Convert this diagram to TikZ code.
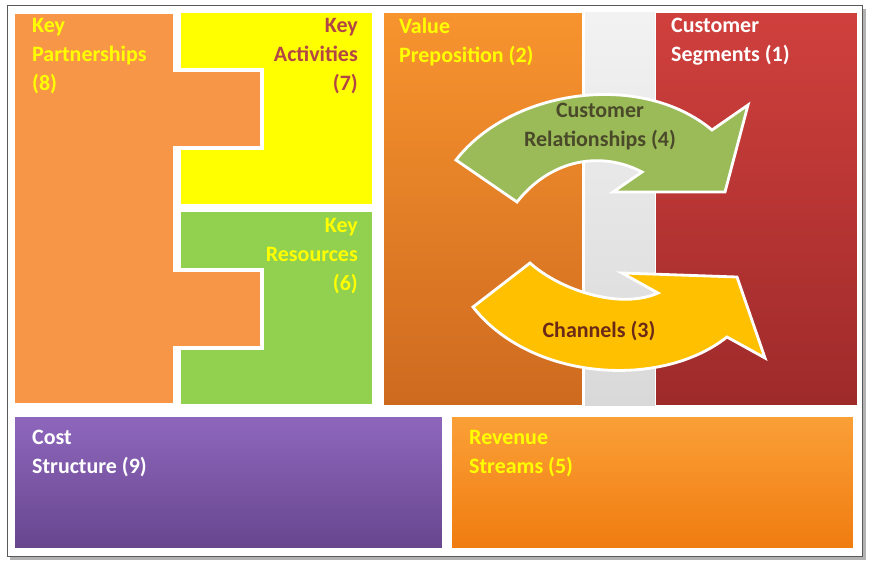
\documentclass[tikz,border=0pt]{standalone}
\usepackage{fontspec}
\setmainfont{Carlito}
\usetikzlibrary{positioning,shadows}
\definecolor{kporange}{HTML}{F79646}
\definecolor{kayellow}{HTML}{FFFF00}
\definecolor{krgreen}{HTML}{92D050}
\definecolor{txtred}{HTML}{B24545}
\definecolor{txtyel}{HTML}{FFFF00}
\definecolor{crgreen}{HTML}{9BBB59}
\definecolor{chyel}{HTML}{FFC000}
\definecolor{crtext}{HTML}{4A4A2A}
\definecolor{chtext}{HTML}{6B2A18}
\definecolor{vptop}{HTML}{F8942E}
\definecolor{vpbot}{HTML}{CE6A1F}
\tikzset{
  block/.style={draw=white, line width=1.2pt},
  lbl/.style={font=\bfseries\fontsize{12.5}{16.5}\selectfont, align=left, anchor=north west},
  rlbl/.style={font=\bfseries\fontsize{12.5}{16.5}\selectfont, align=right, anchor=north east},
  curvy/.style={draw=white, line width=1.6pt, line join=miter}
}
\begin{document}
\begin{tikzpicture}[x=0.02cm,y=-0.02cm]
    \useasboundingbox (0,0) rectangle (869,566);
    % frame
    \fill[gray!60] (10,9) rectangle (866,560);
    \draw[gray!70!black, fill=white] (7,5) rectangle (862,556);
    \shade[top color=gray!10, bottom color=gray!30] (585,12) rectangle (655,405);

    % key activities / resources
    \filldraw[block, fill=kayellow] (180,12) rectangle (373,205);
    \node[rlbl, text=txtred] (ka) at (364,12) {Key\\Activities\\(7)};
    \filldraw[block, fill=krgreen] (180,211) rectangle (373,405);
    \node[rlbl, text=txtyel] (kr) at (364,212) {Key\\Resources\\(6)};

    % key partnerships
    \filldraw[block, fill=kporange, line width=2pt] (13,12) -- (175,12) -- (175,70) -- (262,70)
        -- (262,148) -- (175,148) -- (175,270) -- (262,270) -- (262,348)
        -- (175,348) -- (175,405) -- (13,405) -- cycle;
    \node[lbl, text=txtyel] (kp) at (26,12) {Key\\Partnerships\\(8)};

    % value preposition
    \shade[top color=vptop, bottom color=vpbot] (383,12) rectangle (582,405);
    \draw[white] (383,12) rectangle (582,405);
    \node[lbl, text=txtyel] (vp) at (393,12) {Value\\Preposition (2)};

    % customer segments
    \shade[top color={rgb,255:red,208;green,64;blue,61}, bottom color={rgb,255:red,158;green,42;blue,42}] (655,12) rectangle (857,405);
    \draw[white] (655,12) rectangle (857,405);
    \node[lbl, text=white] (cs) at (665,12) {Customer\\Segments (1)};

    % cost structure / revenue streams
    \shade[top color={rgb,255:red,142;green,103;blue,189}, bottom color={rgb,255:red,104;green,70;blue,142}] (14,416) rectangle (442,548);
    \draw[white] (14,416) rectangle (442,548);
    \node[lbl, text=white] (cost) at (26,424) {Cost\\Structure (9)};
    \shade[top color={rgb,255:red,250;green,160;blue,55}, bottom color={rgb,255:red,240;green,124;blue,16}] (451,416) rectangle (853,548);
    \draw[white] (451,416) rectangle (853,548);
    \node[lbl, text=txtyel] (rev) at (463,424) {Revenue\\Streams (5)};

    % customer relationships arrow
    \filldraw[curvy, fill=crgreen] (456,160) .. controls (510,90) and (640,70) .. (712,130)
        -- (748,105) -- (725,192) -- (613,192) -- (642,172)
        .. controls (600,150) and (550,160) .. (517,202) -- cycle;
    \node[font=\bfseries\fontsize{12.5}{16.5}\selectfont, align=center, text=crtext] (crel) at (600,127) {Customer\\Relationships (4)};

    % channels arrow
    \filldraw[curvy, fill=chyel] (530,263) .. controls (560,290) and (620,310) .. (658,293)
        -- (622,273) -- (737,277) -- (765,358) -- (727,337)
        .. controls (660,390) and (530,380) .. (473,307) -- cycle;
    \node[font=\bfseries\fontsize{12.5}{16.5}\selectfont, text=chtext] (chan) at (599,331) {Channels (3)};
\end{tikzpicture}
\end{document}
